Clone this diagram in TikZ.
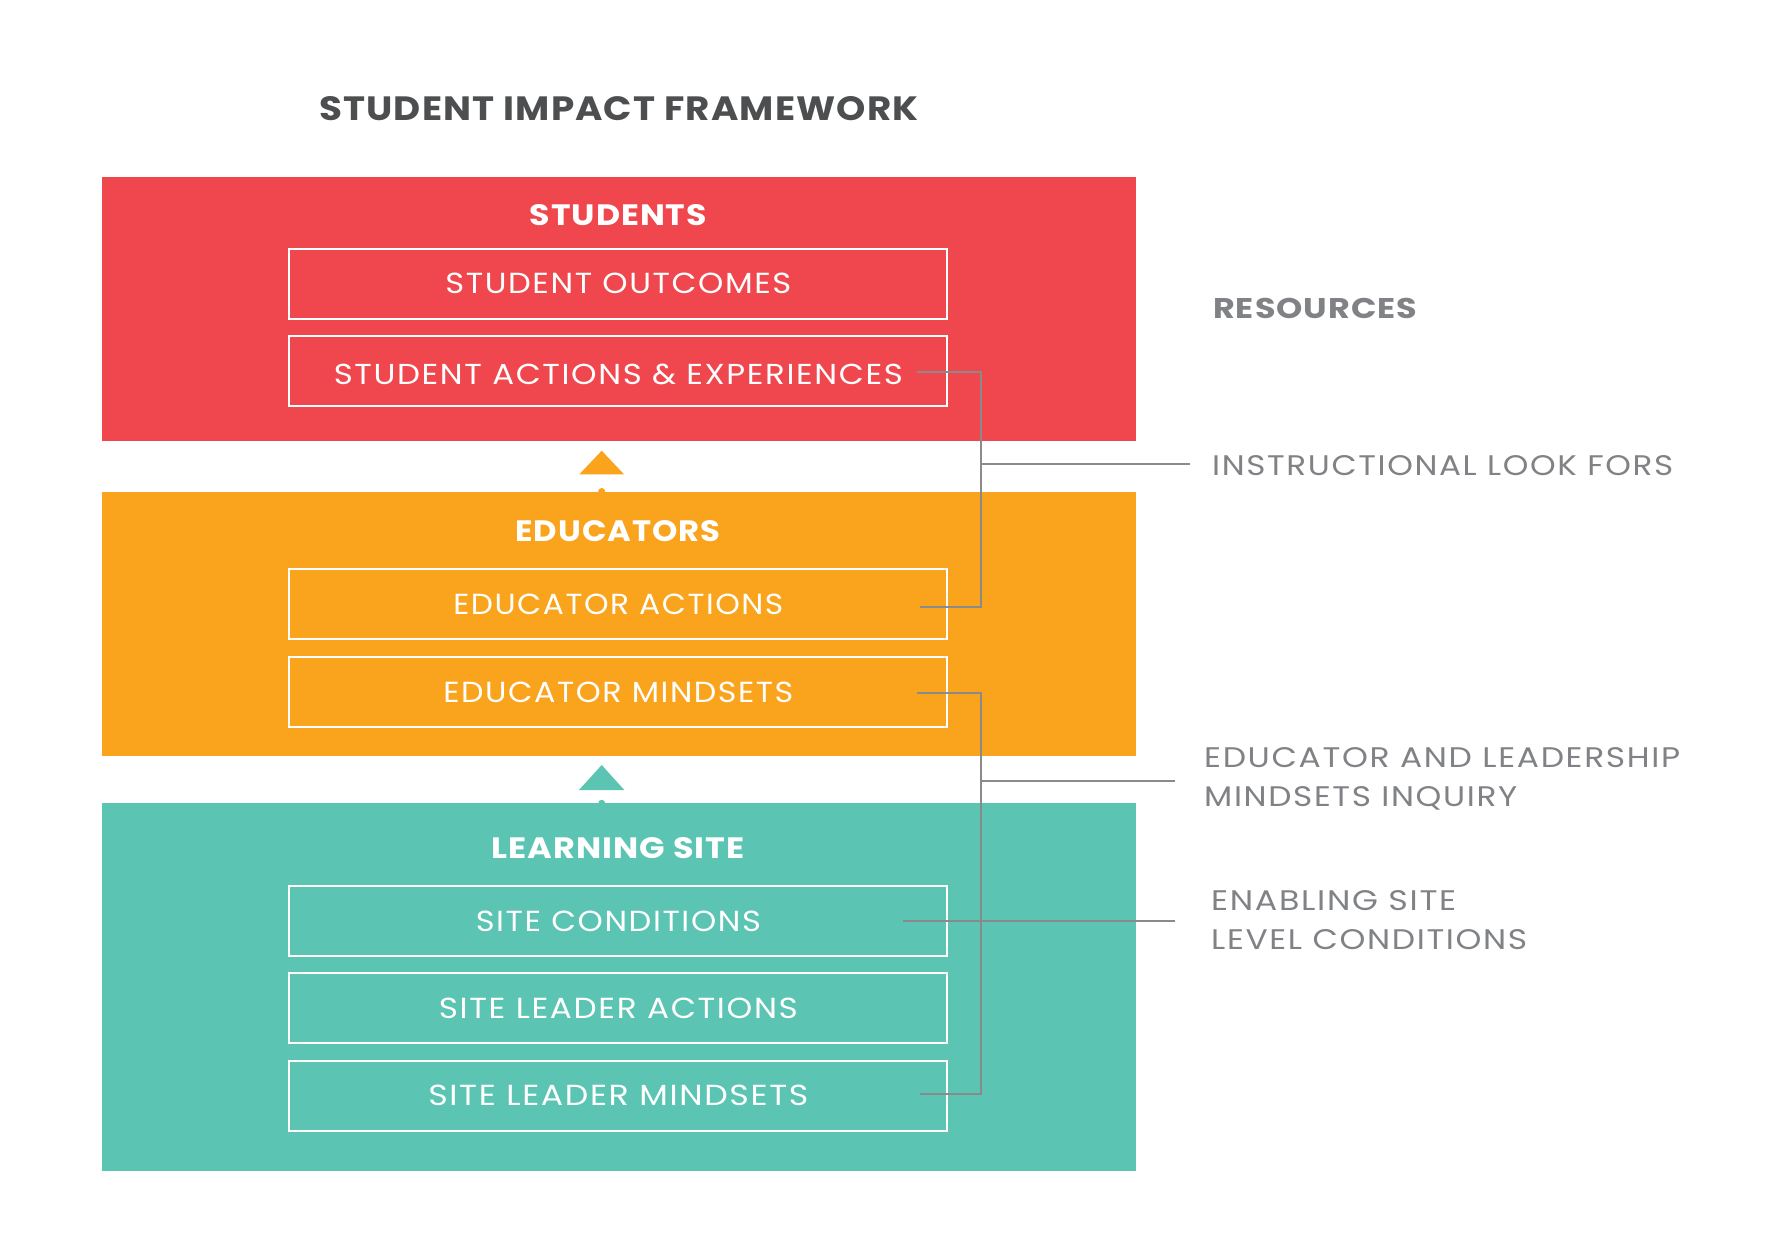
\documentclass[tikz,border=0pt]{standalone}
\usepackage{fontspec}
\usepackage{graphicx}
\setmainfont{Poppins}
\newfontfamily\labfont{Poppins}[LetterSpace=5]
\newfontfamily\hdfont{Poppins}[LetterSpace=3]
\newcommand{\fitw}[3]{\resizebox{#1pt}{#2pt}{#3}}
\definecolor{cRed}{HTML}{EF474D}
\definecolor{cOra}{HTML}{F9A41C}
\definecolor{cTeal}{HTML}{5BC4B2}
\definecolor{cTitle}{HTML}{4D4E50}
\definecolor{cGray}{HTML}{808285}
\definecolor{cLine}{HTML}{898A8C}
\begin{document}
\begin{tikzpicture}[x=1pt,y=-1pt,
  panel/.style={inner sep=0pt, outer sep=0pt, minimum width=1034.5pt},
  head/.style={anchor=base, inner sep=0pt, text=white, font=\hdfont\bfseries},
  inbox/.style={draw=white, line width=2pt, minimum width=658pt, minimum height=70pt, inner sep=0pt, text=white, font=\labfont, text height=20.5pt, text depth=0pt},
  rlab/.style={anchor=base west, inner sep=0pt, text=cGray, font=\labfont\fontsize{20}{38.8}\selectfont},
  conn/.style={draw=cLine, line width=2pt}]
\useasboundingbox (0,0) rectangle (1768,1256);

% title
\node[anchor=base, inner sep=0pt, text=cTitle, font=\hdfont\bfseries] (ttl) at (619,120.7) {\fitw{599}{24}{STUDENT IMPACT FRAMEWORK}};

% panels
\node[panel, fill=cRed, minimum height=264pt] (pstu) at (618.75,308.7) {};
\node[panel, fill=cOra, minimum height=264.5pt] (pedu) at (618.75,623.75) {};
\node[panel, fill=cTeal, minimum height=367.7pt] (psite) at (618.75,987.15) {};

% arrows between panels
\fill[cOra] (579.3,474.3) -- (601.7,450.7) -- (624,474.3) -- cycle;
\fill[cOra] (601.7,491.5) circle[radius=3.5pt];
\fill[cTeal] (579,790) -- (601.7,765) -- (624.3,790) -- cycle;
\fill[cTeal] (601.7,803.3) circle[radius=3.5pt];

% headers
\node[head] (hstu) at (618.3,225) {\fitw{177}{21}{STUDENTS}};
\node[head] (hedu) at (618,541) {\fitw{205}{21}{EDUCATORS}};
\node[head] (hsite) at (618.3,858.3) {\fitw{253}{21}{LEARNING SITE}};

% inner boxes
\node[inbox, text height=18.5pt] (so)  at (618.3,284)    {\fitw{346}{20.5}{STUDENT OUTCOMES}};
\node[inbox, text height=27.3pt] (sae) at (618.3,371)    {\fitw{569}{20.5}{STUDENT ACTIONS \& EXPERIENCES}};
\node[inbox] (ea)  at (618.3,604.2)  {\fitw{330}{20.5}{EDUCATOR ACTIONS}};
\node[inbox] (em)  at (618.3,692)    {\fitw{350}{20.5}{EDUCATOR MINDSETS}};
\node[inbox, text height=22.5pt] (sc)  at (618.3,920.7)  {\fitw{285}{20.5}{SITE CONDITIONS}};
\node[inbox] (sla) at (618.3,1008.2) {\fitw{359}{20.5}{SITE LEADER ACTIONS}};
\node[inbox] (slm) at (618.3,1095.5) {\fitw{380}{20.5}{SITE LEADER MINDSETS}};

% right labels
\node[rlab, font=\hdfont\bfseries] (res) at (1213,318.3) {\fitw{204}{20.3}{RESOURCES}};
\node[rlab] (ilf) at (1212,475) {\fitw{461}{20}{INSTRUCTIONAL LOOK FORS}};
\node[rlab] (elm) at (1204,767.7) {\begin{tabular}[t]{@{}l@{}}\fitw{476}{20}{EDUCATOR AND LEADERSHIP}\\\fitw{313}{20}{MINDSETS INQUIRY}\end{tabular}};
\node[rlab] (esl) at (1211,910.7) {\begin{tabular}[t]{@{}l@{}}\fitw{245}{20}{ENABLING SITE}\\\fitw{316}{20}{LEVEL CONDITIONS}\end{tabular}};

% connectors
\coordinate (a1) at (917,372);
\coordinate (a2) at (920,607);
\coordinate (v1) at (981,464);
\coordinate (e1) at (1190,464);
\coordinate (a3) at (917,693.3);
\coordinate (a4) at (920,1094);
\coordinate (v2) at (981,780.7);
\coordinate (e2) at (1175,780.7);
\coordinate (a5) at (903.3,920.7);
\coordinate (e3) at (1175,920.7);
\draw[conn] (a1) -| (v1) |- (a2);
\draw[conn] (v1) -- (e1);
\draw[conn] (a3) -| (v2) |- (a4);
\draw[conn] (v2) -- (e2);
\draw[conn] (a5) -- (e3);
\end{tikzpicture}
\end{document}
